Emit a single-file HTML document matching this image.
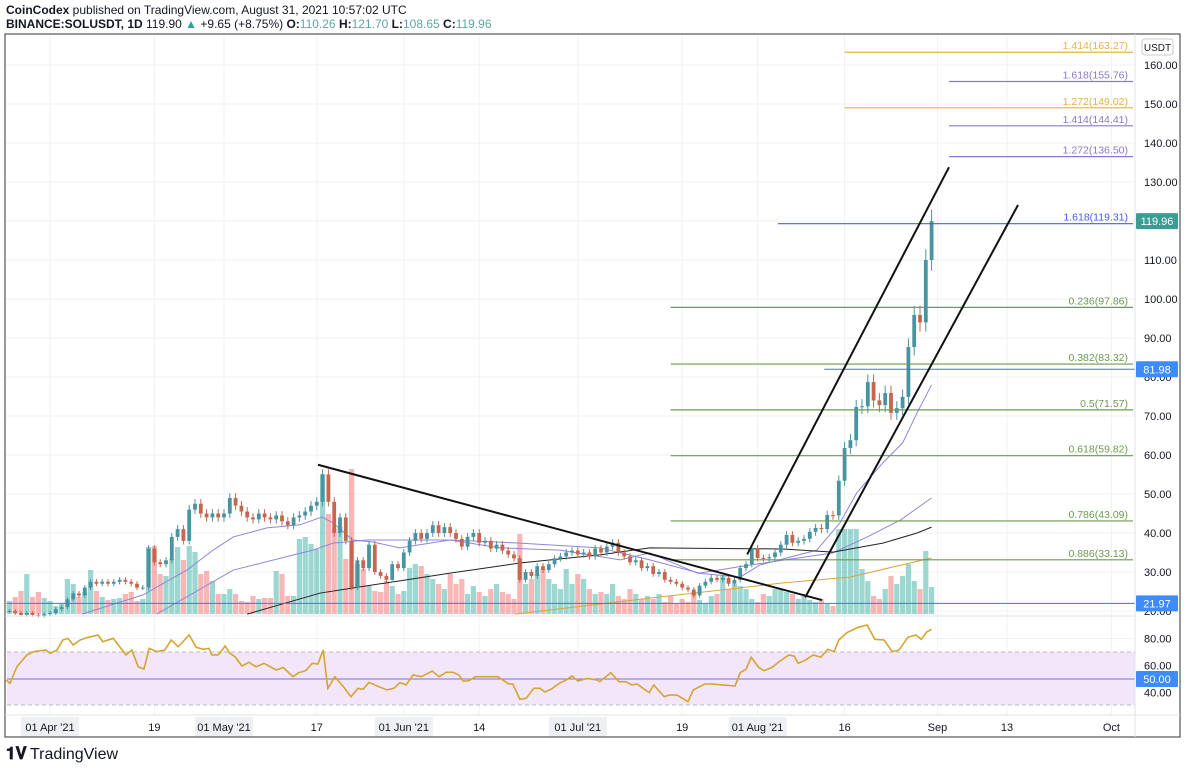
<!DOCTYPE html>
<html><head><meta charset="utf-8"><style>
html,body{margin:0;padding:0;background:#fff;width:1186px;height:768px;overflow:hidden;font-family:"Liberation Sans",sans-serif}
svg text{font-family:"Liberation Sans",sans-serif}
</style></head><body>
<svg id="chart" width="1186" height="768" viewBox="0 0 1186 768" xmlns="http://www.w3.org/2000/svg">
<text x="6" y="14" font-size="12" fill="#131722"><tspan font-weight="bold">CoinCodex</tspan> published on TradingView.com, August 31, 2021 10:57:02 UTC</text>
<text x="6" y="28" font-size="12" fill="#131722"><tspan font-weight="bold">BINANCE:SOLUSDT, 1D</tspan>  119.90 <tspan fill="#26a69a">▲</tspan> +9.65 (+8.75%) <tspan font-weight="bold">O:</tspan><tspan fill="#5aa8a0">110.26</tspan> <tspan font-weight="bold">H:</tspan><tspan fill="#5aa8a0">121.70</tspan> <tspan font-weight="bold">L:</tspan><tspan fill="#5aa8a0">108.65</tspan> <tspan font-weight="bold">C:</tspan><tspan fill="#5aa8a0">119.96</tspan></text>
<g id="grid"></g>
<rect x="7" y="652" width="1128" height="53" fill="#f3e6fb"/>
<line x1="7" y1="652" x2="1135" y2="652" stroke="#b8b8c4" stroke-dasharray="4,3"/>
<line x1="7" y1="705" x2="1135" y2="705" stroke="#b8b8c4" stroke-dasharray="4,3"/>
<line x1="7" y1="679" x2="1135" y2="679" stroke="#7b6fd6" stroke-width="1"/>
<g id="vol"></g><g id="ma"></g><g id="candles"></g><g id="fib"></g><g id="trend"></g><g id="rsi"></g><g id="axes"></g>
<rect x="5" y="34" width="1175" height="703" fill="none" stroke="#555" stroke-width="1.2"/>
<line x1="5" y1="616" x2="1135" y2="616" stroke="#e0e3eb"/>
<line x1="5" y1="715" x2="1180" y2="715" stroke="#e0e3eb"/>
<line x1="1135" y1="34" x2="1135" y2="737" stroke="#e0e3eb"/>
<g><text x="6" y="759" font-size="17" font-weight="bold" fill="#131722">𝟏𝐕</text><text x="30" y="759" font-size="16" fill="#131722">TradingView</text></g>
</svg>
<script>
const NS="http://www.w3.org/2000/svg";
const closes=[20,19.5,19,19.5,19,18.8,19.2,
19.5,20.5,21,23,24.5,24,26,27.5,27,27.5,27,27.5,28,27.5,27,26,26,
36,32.5,32,33,39,41,38,46,47.5,45,44,45,44,45,
49,47,45.5,44,43.5,45,44,43.5,44.5,43,42,44,44.5,45.5,47,48,
55,48,40,44,38,26,33,31,37,30,29,28,32,31,35,38,40,38.5,40,42,40,41.5,
40,38.5,36.5,39,40,37.5,38,36,37,35.5,34.5,33.5,28,30,29,31.5,30.5,32,33.5,34,35,35.5,34.5,35,34,36,35,36.5,37.5,35,34,32.5,33,31,31.5,
29.5,30,28,27.5,27,26,25.5,24,26.5,27.5,28.5,28,28.5,27,28,
31,32,36,33.6,33.5,33.8,35,37,39.5,37.5,38,38.5,40.3,41.3,41,44.6,44.5,53.4,61.8,63.8,72.3,72.5,78.7,74,72.8,75.9,70.8,72,74.9,87.7,95.9,94,110,119.96];
const volumes=[13,17,23,40,17,22,16,13,8,10,35,30,17,22,44,23,17,14,15,16,20,22,13,15,
67,68,40,38,55,67,54,68,62,40,43,33,20,20,25,20,13,12,18,15,16,16,
43,40,18,18,75,77,70,65,140,100,85,87,55,145,50,45,28,23,22,33,28,20,23,46,50,48,40,35,
30,25,40,30,35,20,28,22,18,25,30,22,20,15,80,
30,35,40,45,35,30,25,45,30,40,35,25,
20,22,20,30,18,15,25,20,15,18,
15,20,12,18,10,15,12,22,14,10,18,20,38,25,30,
28,25,15,12,20,18,25,25,22,20,15,18,14,12,15,10,8,
85,85,85,85,45,33,18,15,25,38,30,38,50,33,25,63,27];
const firstDay=-7;
const ma20Days=[5.5,16,23.6,28.1,31.6,37.4,43.1,46.9,48.8,52.2,55.7,60.3,69,77.6,87.9,98.3,103.4,111.6,119,122.4,132.2,136.2,139.1,143.6,147,149.5,152];
const ma20Vals=[19.2,24.1,30.5,35.6,39,41.3,42.1,44.1,42.6,38.2,37.7,36.2,38.2,36.2,35.6,33.1,34.9,29.7,28.7,31.8,35.6,42.6,50.3,58,63.1,70.8,78];
const ma50Days=[18.4,31.6,45.3,48.8,54.7,69,81,94.8,103.4,112,120.7,135,140.9,146.6,152];
const ma50Vals=[19.2,30.5,35.6,37.4,38.2,38.2,37.4,36.2,33.1,29.7,31.8,34.9,39,43.3,49];
const ma100Days=[34,46.6,52.2,69,81,94.8,103.4,126.4,135,143.6,149.5,152];
const ma100Vals=[19.2,24.6,25.9,29.7,32.3,34.4,36.2,35.9,35.1,37.4,40,41.5];
const ma200Days=[80.2,103.4,126.4,137.9,152];
const ma200Vals=[19.2,23.3,27.2,28.7,33.6];
const rsiDays=[-7.6,-6.9,-5.7,-4,-2.8,-0.7,0,1.2,2.2,3.1,4,5.2,6.6,8.3,9.1,10.9,13.1,14.1,15.2,16.2,17.1,18.4,19.8,20.9,22.1,24,25.2,26.4,27.4,27.9,29,30.2,31,31.9,33.1,34.3,35.5,36.9,39,40.2,41.9,42.9,44.1,45.2,46.2,47.1,47.9,49.1,50.5,51.9,53.1,54,55,56.7,58.1,59.3,60.3,61.4,62.6,64,65.9,67.1,68.3,69.5,70.5,71.2,72.2,73.4,75.2,77.2,79.1,79.8,81,82.1,83.4,84.5,85.3,86.4,87.8,89,90,91,92.6,94.3,
94.8,96.7,98.1,99.3,100.3,101.2,103.3,104.1,105.9,106.7,108.1,110,110.9,112.9,114.1,116,118.1,119,120,120.9,122.2,123.1,124.5,125.7,127.4,128.3,129,130.3,131.6,132.9,134.1,135.2,136,137.4,139.3,140.9,142.2,143.8,145.2,146.4,147.9,149.3,150.2,151.2,152];
const rsiVals=[49.3,46.8,59.1,67.8,70.3,71.5,69,71.5,78.9,80.1,75.2,78.9,80.9,82.6,77.6,80.1,67.8,71.5,59.1,57.4,72.7,70.3,71.5,78.9,73.9,82.6,73.5,72,72.7,67.8,67.8,74.4,69,66.5,59.6,62.4,59.1,61.6,56.7,58.6,51.7,54.7,56.2,61.6,61.1,71.5,43.1,51.7,44.8,36.9,43.1,42.4,47.5,44.3,41.9,43.1,47.3,45.6,53,51.7,55.9,51.7,55,55,53,48.5,48.7,51.7,51.7,51.7,46.3,46.3,35,35.7,43.1,43.1,40.4,42.4,46.8,49.3,52.2,48.5,50.4,49.3,
48,54.7,48,48,45.6,46.3,39.9,45.6,36.9,38.1,38.1,33.2,41.9,46.3,46.3,45.6,44.8,54.7,57.2,66.1,58.6,56.2,58.6,62.8,67.8,67,61.6,64.1,67.8,66.1,72,70.3,78.9,84.3,88.3,90,79.4,78.9,70.3,71.5,80.9,82.6,79.4,85,86.8];
const priceTicks=[160,150,140,130,120,110,100,90,80,70,60,50,40,30,20];
const rsiTicks=[80,60,40];
const timeLabels=["01 Apr '21","19","01 May '21","17","01 Jun '21","14","01 Jul '21","19","01 Aug '21","16","Sep","13","Oct"];
const timeDays=[0,18,30,46,61,74,91,109,122,137,153,165,183];
const fibLabels=["1.414(163.27)","1.618(155.76)","1.272(149.02)","1.414(144.41)","1.272(136.50)","1.618(119.31)","0.236(97.86)","0.382(83.32)","0.5(71.57)","0.618(59.82)","0.786(43.09)","0.886(33.13)"];
const fibPrices=[163.27,155.76,149.02,144.41,136.50,119.31,97.86,83.32,71.57,59.82,43.09,33.13];
const fibStartDays=[137,155,137,155,155,125.5,107,107,107,107,107,107];
const fibColors=["#e3b24a","#8b78c6","#e3b24a","#8b78c6","#8b78c6","#4a5cf0","#6c9a50","#6c9a50","#6c9a50","#6c9a50","#6c9a50","#6c9a50"];
const trendStart=[[46.2,57.5],[120.2,34.5],[130.2,23.5]];
const trendEnd=[[133.1,22.8],[155,133.8],[166.9,124.1]];

const X=d=>50+d*5.8, Y=p=>65+(160-p)*3.9, RY=r=>679-(r-50)*1.35, VY=v=>614-v;
function mk(tag,attrs,parent){const e=document.createElementNS(NS,tag);for(const k in attrs)e.setAttribute(k,attrs[k]);document.getElementById(parent).appendChild(e);return e;}

timeDays.forEach(d=>{const l=mk('line',{x1:X(d),y1:34,x2:X(d),y2:715,stroke:'#f0f2f7'},'grid');

});
priceTicks.forEach(p=>{const l=mk('line',{x1:5,y1:Y(p),x2:1135,y2:Y(p),stroke:'#f0f2f7'},'grid');

});
rsiTicks.forEach(r=>{const l=mk('line',{x1:5,y1:RY(r),x2:1135,y2:RY(r),stroke:'#f0f2f7'},'grid');

});

closes.forEach((c,i)=>{const d=firstDay+i;const o=i?closes[i-1]:c;const up=c>=o;
 const v=mk('rect',{x:X(d)-2.6,y:VY(volumes[i]),width:5.2,height:volumes[i],fill:up?'rgba(38,166,154,0.45)':'rgba(239,83,80,0.42)'},'vol');
 
 
 const hi=Math.max(o,c)*1.025, lo=Math.min(o,c)*0.975, col=up?'#4a93a0':'#c5664f';
 const w=mk('line',{x1:X(d),y1:Y(hi),x2:X(d),y2:Y(lo),stroke:col,'stroke-width':1},'candles');
 
 
 const b=mk('rect',{x:X(d)-1.9,y:Y(Math.max(o,c)),width:3.8,height:Math.max(1,Math.abs(Y(o)-Y(c))),fill:col},'candles');
 
 
});

[[ma20Days,ma20Vals,'#8f86d8','ma-20'],[ma50Days,ma50Vals,'#8f86d8','ma-50'],[ma100Days,ma100Vals,'#222','ma-100'],[ma200Days,ma200Vals,'#d6a53a','ma-200']].forEach(([ds,vs,col,nm])=>{
 const p=mk('polyline',{points:ds.map((d,i)=>X(d)+','+Y(vs[i])).join(' '),fill:'none',stroke:col,'stroke-width':1},'ma');
 
 
});

[[21.97,7,'#4a6cf0','support-line'],[81.98,133.5,'#4a6cf0','resistance-line']].forEach(([p,d,col,nm])=>{
 const l=mk('line',{x1:X(d<10?-7.5:d),y1:Y(p),x2:1135,y2:Y(p),stroke:col,'stroke-width':1},'fib');
 
 
});
fibPrices.forEach((p,i)=>{
 const l=mk('line',{x1:X(fibStartDays[i]),y1:Y(p),x2:1133,y2:Y(p),stroke:fibColors[i],'stroke-width':1.2},'fib');
 
 
 const t=mk('text',{x:1128,y:Y(p)-3,'text-anchor':'end','font-size':10.5,fill:fibColors[i]},'fib');
 t.textContent=fibLabels[i];
 
 
});

trendStart.forEach((s,i)=>{const e=trendEnd[i];
 const l=mk('line',{x1:X(s[0]),y1:Y(s[1]),x2:X(e[0]),y2:Y(e[1]),stroke:'#111','stroke-width':2},'trend');
 
 
});

const r=mk('polyline',{points:rsiDays.map((d,i)=>X(d)+','+RY(rsiVals[i])).join(' '),fill:'none',stroke:'#d4a532','stroke-width':1.6},'rsi');



priceTicks.forEach(p=>{const t=mk('text',{x:1144,y:Y(p)+4,'font-size':11,fill:'#131722'},'axes');t.textContent=p.toFixed(2);
 
 });
rsiTicks.forEach(v=>{const t=mk('text',{x:1144,y:RY(v)+4,'font-size':11,fill:'#131722'},'axes');t.textContent=v.toFixed(2);
 
 });
timeLabels.forEach((s,i)=>{const x=X(timeDays[i]);
 if(s.indexOf("'")>0){const bg=mk('rect',{x:x-29,y:717,width:58,height:20,fill:'#eef0f4'},'axes');
  
  }
 const t=mk('text',{x:x,y:731,'text-anchor':'middle','font-size':11,fill:'#131722'},'axes');t.textContent=s;
 
 });
[[119.96,'#3a9c95','119.96','last-price-badge',Y],[81.98,'#3d8bfd','81.98','level-badge',Y],[21.97,'#3d8bfd','21.97','support-badge',Y],[50,'#3d8bfd','50.00','rsi-50-badge',RY]].forEach(([v,col,s,nm,fn])=>{
 const y=fn(v);const b=mk('rect',{x:1136,y:y-8,width:42,height:16,fill:col,rx:1},'axes');
 
 
 const t=mk('text',{x:1157,y:y+4,'text-anchor':'middle','font-size':11,fill:'#fff'},'axes');t.textContent=s;
 
 });
const ub=mk('rect',{x:1142,y:39,width:31,height:16,fill:'#fff',stroke:'#c8cbd3',rx:3},'axes');


const ut=mk('text',{x:1157.5,y:51,'text-anchor':'middle','font-size':10,fill:'#131722'},'axes');ut.textContent='USDT';


</script>
</body></html>
